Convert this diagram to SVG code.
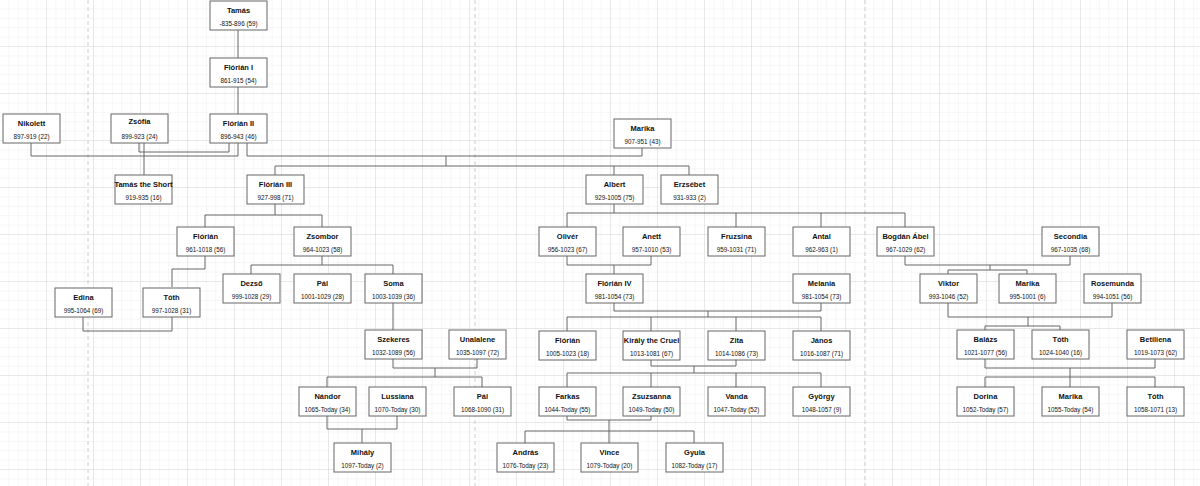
<svg xmlns="http://www.w3.org/2000/svg" width="1200" height="486" viewBox="0 0 1200 486">
<style>
.n rect{fill:#fff;stroke:#666;stroke-width:1}
.n text{font-family:"Liberation Sans",Arial,sans-serif;text-anchor:middle;fill:#111}
.t{font-size:7.5px;font-weight:bold}
.d{font-size:6.3px}
#links path{fill:none;stroke:#666;stroke-width:1}
.dash{stroke:#ccc;stroke-width:1;stroke-dasharray:4 3}
</style>
<defs>
<pattern id="g" width="9.4" height="9.4" patternUnits="userSpaceOnUse"><path d="M9.4 0V9.4H0" fill="none" stroke="#e2e2e2" stroke-width="0.6"/></pattern>
<pattern id="G" width="47" height="47" patternUnits="userSpaceOnUse"><rect width="47" height="47" fill="url(#g)"/><path d="M47 0V47H0" fill="none" stroke="#d2d2d2" stroke-width="0.8"/></pattern>
</defs>
<rect width="1200" height="486" fill="#fff"/>
<rect width="1200" height="486" fill="url(#G)"/>
<line class="dash" x1="88" y1="0" x2="88" y2="486"/>
<line class="dash" x1="475" y1="0" x2="475" y2="486"/>
<line class="dash" x1="865" y1="0" x2="865" y2="486"/>
<g id="links">
<path d="M238 30V58M238 86V114"/>
<path d="M31 142V156H238V142M139 142V152H229V142M144 142V175"/>
<path d="M247 142V156H642V147M446 156V166M275 175V166H689V175M614 166V175"/>
<path d="M275 203V215M205 227V215H322V227"/>
<path d="M205 256V269H172V287M83 317V331H172V317"/>
<path d="M322 256V265M251 274V265H393V274M393 302V330"/>
<path d="M393 359V368H477V359M435 368V377M327 387V377H482V387"/>
<path d="M327 415V429H397V415M362 429V443"/>
<path d="M614 204V213M567 227V213H905V227M736 213V227M821 213V227"/>
<path d="M567 256V265H651V256M614 265V274"/>
<path d="M614 303V311H821V303M708 311V317M567 331V317H821V331M651 317V331M736 317V331"/>
<path d="M651 359V366H736V359M694 366V373M567 387V373H821V387M651 373V387M736 373V387"/>
<path d="M567 415V420H651V415M609 420V431M525 443V431H694V443M609 431V443"/>
<path d="M905 256V265H1070V256M990 265V270M948 274V270H1027V274"/>
<path d="M948 302V317H1112V302M1028 317V326M985 330V326H1060V330"/>
<path d="M985 359V368H1155V359M1070 368V377M985 387V377H1155V387M1070 377V387"/>
</g>
<g id="tamas" class="n" transform="translate(210,1)"><rect width="57" height="29"/><text class="t" x="28.5" y="12">Tamás</text><text class="d" x="28.5" y="25">-835-896 (59)</text></g>
<g id="florian1" class="n" transform="translate(210,58)"><rect width="57" height="29"/><text class="t" x="28.5" y="12">Flórián I</text><text class="d" x="28.5" y="25">861-915 (54)</text></g>
<g id="nikolett" class="n" transform="translate(3,114)"><rect width="57" height="29"/><text class="t" x="28.5" y="12">Nikolett</text><text class="d" x="28.5" y="25">897-919 (22)</text></g>
<g id="zsofia" class="n" transform="translate(111,114)"><rect width="57" height="29"/><text class="t" x="28.5" y="10">Zsófia</text><text class="d" x="28.5" y="25">899-923 (24)</text></g>
<g id="florian2" class="n" transform="translate(210,114)"><rect width="57" height="29"/><text class="t" x="28.5" y="12">Flórián II</text><text class="d" x="28.5" y="25">896-943 (46)</text></g>
<g id="marika1" class="n" transform="translate(614,119)"><rect width="57" height="29"/><text class="t" x="28.5" y="12">Marika</text><text class="d" x="28.5" y="25">907-951 (43)</text></g>
<g id="tamas-short" class="n" transform="translate(115,175)"><rect width="57" height="29"/><text class="t" x="28.5" y="12">Tamás the Short</text><text class="d" x="28.5" y="25">919-935 (16)</text></g>
<g id="florian3" class="n" transform="translate(247,175)"><rect width="57" height="29"/><text class="t" x="28.5" y="12">Flórián III</text><text class="d" x="28.5" y="25">927-998 (71)</text></g>
<g id="albert" class="n" transform="translate(586,175)"><rect width="57" height="29"/><text class="t" x="28.5" y="12">Albert</text><text class="d" x="28.5" y="25">929-1005 (75)</text></g>
<g id="erzsebet" class="n" transform="translate(661,175)"><rect width="57" height="29"/><text class="t" x="28.5" y="12">Erzsébet</text><text class="d" x="28.5" y="25">931-933 (2)</text></g>
<g id="florian-a" class="n" transform="translate(177,227)"><rect width="57" height="29"/><text class="t" x="28.5" y="12">Flórián</text><text class="d" x="28.5" y="25">961-1018 (56)</text></g>
<g id="zsombor" class="n" transform="translate(294,227)"><rect width="57" height="29"/><text class="t" x="28.5" y="12">Zsombor</text><text class="d" x="28.5" y="25">964-1023 (58)</text></g>
<g id="oliver" class="n" transform="translate(539,227)"><rect width="57" height="29"/><text class="t" x="28.5" y="12">Olivér</text><text class="d" x="28.5" y="25">956-1023 (67)</text></g>
<g id="anett" class="n" transform="translate(623,227)"><rect width="57" height="29"/><text class="t" x="28.5" y="12">Anett</text><text class="d" x="28.5" y="25">957-1010 (53)</text></g>
<g id="fruzsina" class="n" transform="translate(708,227)"><rect width="57" height="29"/><text class="t" x="28.5" y="12">Fruzsina</text><text class="d" x="28.5" y="25">959-1031 (71)</text></g>
<g id="antal" class="n" transform="translate(793,227)"><rect width="57" height="29"/><text class="t" x="28.5" y="12">Antal</text><text class="d" x="28.5" y="25">962-963 (1)</text></g>
<g id="bogdan" class="n" transform="translate(877,227)"><rect width="57" height="29"/><text class="t" x="28.5" y="12">Bogdán Ábel</text><text class="d" x="28.5" y="25">967-1029 (62)</text></g>
<g id="secondia" class="n" transform="translate(1042,227)"><rect width="57" height="29"/><text class="t" x="28.5" y="12">Secondia</text><text class="d" x="28.5" y="25">967-1035 (68)</text></g>
<g id="dezso" class="n" transform="translate(223,274)"><rect width="57" height="29"/><text class="t" x="28.5" y="12">Dezső</text><text class="d" x="28.5" y="25">999-1028 (29)</text></g>
<g id="pal1" class="n" transform="translate(294,274)"><rect width="57" height="29"/><text class="t" x="28.5" y="12">Pál</text><text class="d" x="28.5" y="25">1001-1029 (28)</text></g>
<g id="soma" class="n" transform="translate(365,274)"><rect width="57" height="29"/><text class="t" x="28.5" y="12">Soma</text><text class="d" x="28.5" y="25">1003-1039 (36)</text></g>
<g id="edina" class="n" transform="translate(55,288)"><rect width="57" height="29"/><text class="t" x="28.5" y="12">Edina</text><text class="d" x="28.5" y="25">995-1064 (69)</text></g>
<g id="toth1" class="n" transform="translate(143,288)"><rect width="57" height="29"/><text class="t" x="28.5" y="12">Tóth</text><text class="d" x="28.5" y="25">997-1028 (31)</text></g>
<g id="florian4" class="n" transform="translate(586,274)"><rect width="57" height="29"/><text class="t" x="28.5" y="12">Flórián IV</text><text class="d" x="28.5" y="25">981-1054 (73)</text></g>
<g id="melania" class="n" transform="translate(793,274)"><rect width="57" height="29"/><text class="t" x="28.5" y="12">Melania</text><text class="d" x="28.5" y="25">981-1054 (73)</text></g>
<g id="viktor" class="n" transform="translate(920,274)"><rect width="57" height="29"/><text class="t" x="28.5" y="12">Viktor</text><text class="d" x="28.5" y="25">993-1046 (52)</text></g>
<g id="marika2" class="n" transform="translate(999,274)"><rect width="57" height="29"/><text class="t" x="28.5" y="12">Marika</text><text class="d" x="28.5" y="25">995-1001 (6)</text></g>
<g id="rosemunda" class="n" transform="translate(1084,274)"><rect width="57" height="29"/><text class="t" x="28.5" y="12">Rosemunda</text><text class="d" x="28.5" y="25">994-1051 (56)</text></g>
<g id="szekeres" class="n" transform="translate(365,330)"><rect width="57" height="29"/><text class="t" x="28.5" y="12">Szekeres</text><text class="d" x="28.5" y="25">1032-1089 (56)</text></g>
<g id="unalalene" class="n" transform="translate(449,330)"><rect width="57" height="29"/><text class="t" x="28.5" y="12">Unalalene</text><text class="d" x="28.5" y="25">1035-1097 (72)</text></g>
<g id="florian-b" class="n" transform="translate(539,331)"><rect width="57" height="29"/><text class="t" x="28.5" y="12">Flórián</text><text class="d" x="28.5" y="25">1005-1023 (18)</text></g>
<g id="kiraly" class="n" transform="translate(623,331)"><rect width="57" height="29"/><text class="t" x="28.5" y="12">Király the Cruel</text><text class="d" x="28.5" y="25">1013-1081 (67)</text></g>
<g id="zita" class="n" transform="translate(708,331)"><rect width="57" height="29"/><text class="t" x="28.5" y="12">Zita</text><text class="d" x="28.5" y="25">1014-1086 (73)</text></g>
<g id="janos" class="n" transform="translate(793,331)"><rect width="57" height="29"/><text class="t" x="28.5" y="12">János</text><text class="d" x="28.5" y="25">1016-1087 (71)</text></g>
<g id="balazs" class="n" transform="translate(957,330)"><rect width="57" height="29"/><text class="t" x="28.5" y="12">Balázs</text><text class="d" x="28.5" y="25">1021-1077 (56)</text></g>
<g id="toth2" class="n" transform="translate(1032,330)"><rect width="57" height="29"/><text class="t" x="28.5" y="12">Tóth</text><text class="d" x="28.5" y="25">1024-1040 (16)</text></g>
<g id="betiliena" class="n" transform="translate(1127,330)"><rect width="57" height="29"/><text class="t" x="28.5" y="12">Betiliena</text><text class="d" x="28.5" y="25">1019-1073 (62)</text></g>
<g id="nandor" class="n" transform="translate(299,387)"><rect width="57" height="29"/><text class="t" x="28.5" y="12">Nándor</text><text class="d" x="28.5" y="25">1065-Today (34)</text></g>
<g id="lussiana" class="n" transform="translate(369,387)"><rect width="57" height="29"/><text class="t" x="28.5" y="12">Lussiana</text><text class="d" x="28.5" y="25">1070-Today (30)</text></g>
<g id="pal2" class="n" transform="translate(454,387)"><rect width="57" height="29"/><text class="t" x="28.5" y="12">Pál</text><text class="d" x="28.5" y="25">1068-1090 (31)</text></g>
<g id="farkas" class="n" transform="translate(539,387)"><rect width="57" height="29"/><text class="t" x="28.5" y="12">Farkas</text><text class="d" x="28.5" y="25">1044-Today (55)</text></g>
<g id="zsuzsanna" class="n" transform="translate(623,387)"><rect width="57" height="29"/><text class="t" x="28.5" y="12">Zsuzsanna</text><text class="d" x="28.5" y="25">1049-Today (50)</text></g>
<g id="vanda" class="n" transform="translate(708,387)"><rect width="57" height="29"/><text class="t" x="28.5" y="12">Vanda</text><text class="d" x="28.5" y="25">1047-Today (52)</text></g>
<g id="gyorgy" class="n" transform="translate(793,387)"><rect width="57" height="29"/><text class="t" x="28.5" y="12">György</text><text class="d" x="28.5" y="25">1048-1057 (9)</text></g>
<g id="dorina" class="n" transform="translate(957,387)"><rect width="57" height="29"/><text class="t" x="28.5" y="12">Dorina</text><text class="d" x="28.5" y="25">1052-Today (57)</text></g>
<g id="marika3" class="n" transform="translate(1042,387)"><rect width="57" height="29"/><text class="t" x="28.5" y="12">Marika</text><text class="d" x="28.5" y="25">1055-Today (54)</text></g>
<g id="toth3" class="n" transform="translate(1127,387)"><rect width="57" height="29"/><text class="t" x="28.5" y="12">Tóth</text><text class="d" x="28.5" y="25">1058-1071  (13)</text></g>
<g id="mihaly" class="n" transform="translate(334,443)"><rect width="57" height="29"/><text class="t" x="28.5" y="12">Mihály</text><text class="d" x="28.5" y="25">1097-Today (2)</text></g>
<g id="andras" class="n" transform="translate(497,443)"><rect width="57" height="29"/><text class="t" x="28.5" y="12">András</text><text class="d" x="28.5" y="25">1076-Today (23)</text></g>
<g id="vince" class="n" transform="translate(581,443)"><rect width="57" height="29"/><text class="t" x="28.5" y="12">Vince</text><text class="d" x="28.5" y="25">1079-Today (20)</text></g>
<g id="gyula" class="n" transform="translate(666,443)"><rect width="57" height="29"/><text class="t" x="28.5" y="12">Gyula</text><text class="d" x="28.5" y="25">1082-Today (17)</text></g>
</svg>
